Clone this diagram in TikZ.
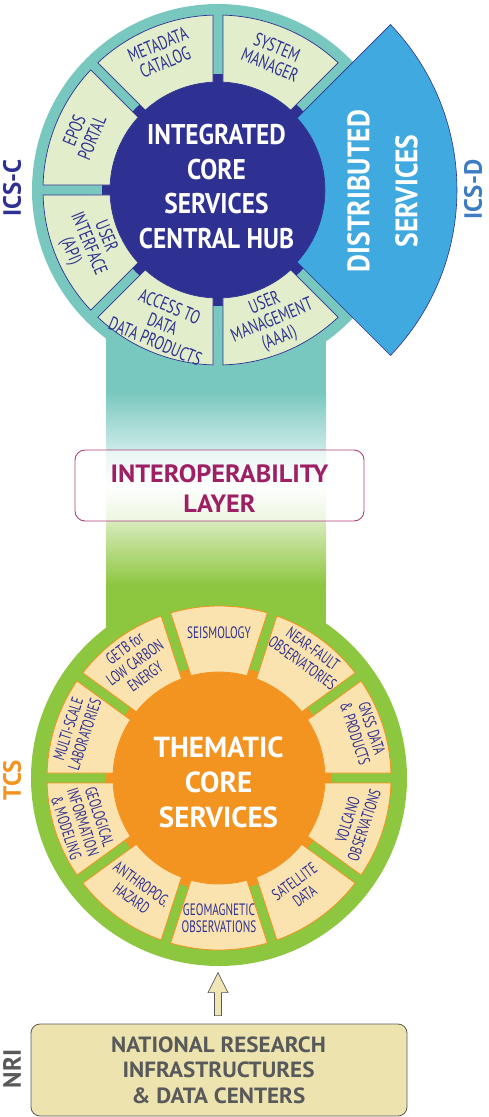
\documentclass[tikz,border=0pt]{standalone}
\usepackage{fontspec}
\setmainfont{PT Sans}
\newfontfamily\condf[FakeStretch=0.68]{PT Sans}
\newfontfamily\condi[FakeStretch=0.72]{PT Sans}
\newfontfamily\hubf[FakeStretch=0.89]{PT Sans}
\newfontfamily\widef[FakeStretch=1.05]{PT Sans}
\usetikzlibrary{calc}
\definecolor{navy}{HTML}{2E3192}
\definecolor{tealc}{HTML}{79C8BF}
\definecolor{segg}{HTML}{E1EDCB}
\definecolor{dblue}{HTML}{40A9E0}
\definecolor{icsd}{HTML}{3B7CC2}
\definecolor{grn}{HTML}{8DC63F}
\definecolor{org}{HTML}{F39320}
\definecolor{peach}{HTML}{FBE3B0}
\definecolor{mag}{HTML}{9E1F63}
\definecolor{nrif}{HTML}{ECE3AE}
\definecolor{nrit}{HTML}{58595B}
\definecolor{arrf}{HTML}{EEE6B4}
\tikzset{
  ics seg/.style={fill=segg, draw=navy, line width=0.7pt},
  tcs seg/.style={fill=peach, draw=org, line width=0.8pt},
  seglab/.style={font=\condf\fontsize{16.5}{17.5}\selectfont, text=navy, align=center, inner sep=0pt},
  icslab/.style={font=\condi\fontsize{19}{19}\selectfont, text=navy, align=center, inner sep=0pt},
  sidelab/.style={font=\bfseries\fontsize{25}{25}\selectfont, rotate=90, inner sep=0pt},
  hubtext/.style={font=\hubf\bfseries\fontsize{28.5}{34.5}\selectfont, text=white, align=center, inner sep=0pt},
}
\begin{document}
\begin{tikzpicture}[x=1pt,y=1pt]
\useasboundingbox (0,0) rectangle (488,-1117);
% column between the two circles
\fill[tealc] (106,-300) rectangle (326,-392);
\shade[top color=tealc, bottom color=white] (106,-392) rectangle (326,-486);
\shade[top color=white, bottom color=grn] (106,-486) rectangle (326,-586);
\fill[grn] (106,-585) rectangle (326,-700);

% ---------- ICS-C ----------
\begin{scope}[shift={(218,-190)}]
  \fill[tealc] (0,0) circle[radius=186];
  \fill[navy] (0,0) circle[radius=116];
  \foreach \a/\b in {45/90,90/135,135/180,180/225,225/270,270/315}{
    \draw[ics seg] ({\a+2.65}:108) -- ({\a+1.64}:175)
      arc[start angle={\a+1.64}, end angle={\b-1.64}, radius=175]
      -- ({\b-2.65}:108)
      arc[start angle={\b-2.65}, end angle={\a+2.65}, radius=108] -- cycle;
  }
  \draw[fill=dblue, draw=navy, line width=0.6pt] ({-45+1.2}:239)
      arc[start angle={-45+1.2}, end angle={45-1.2}, radius=239]
      -- ({45-2.68}:107)
      arc[start angle={45-2.68}, end angle={-45+2.68}, radius=107] -- cycle;
  \foreach \m/\r/\rot/\t/\n in {
     112.5/148/22.5/{METADATA\\CATALOG}/meta,
     67.5/145/-22.5/{SYSTEM\\MANAGER}/sysm,
     157.5/146/67.5/{EPOS\\PORTAL}/epos,
     202.5/141/-67.5/{USER\\INTERFACE\\(API)}/uapi,
     247.5/145/-22.5/{ACCESS TO\\DATA\\DATA PRODUCTS}/acc,
     292.5/142/22.5/{USER\\MANAGEMENT\\(AAAI)}/umgt}{
    \node[icslab, rotate=\rot] (\n) at (\m:\r) {\t};
  }
  \node[hubtext] (hubt) at (-1.5,3.5) {INTEGRATED\\CORE\\SERVICES\\CENTRAL HUB};
  \node[font=\hubf\bfseries\fontsize{31}{48}\selectfont, text=white, align=center,
        rotate=90, inner sep=0pt] (dist) at (164.5,-1) {DISTRIBUTED\\SERVICES};
\end{scope}
\node[sidelab, text=navy] (icsc) at (12,-188) {ICS-C};
\node[sidelab, text=icsd] (icsdl) at (473,-189.5) {ICS-D};

% ---------- Interoperability layer ----------
\node[draw=mag!85, line width=0.9pt, fill=white, fill opacity=0.55, text opacity=1,
      rounded corners=10pt, minimum width=289, minimum height=71, inner sep=0pt]
      (iobox) at (219.5,-485.5) {};
\node[font=\widef\bfseries\fontsize{25}{30}\selectfont, text=mag, align=center, inner sep=0pt]
      (iotext) at (219.5,-488.5) {INTEROPERABILITY\\LAYER};

% ---------- TCS ----------
\begin{scope}[shift={(219,-778)}]
  \fill[grn] (0,0) circle[radius=188];
  \fill[org] (0,0) circle[radius=113];
  \foreach \k in {0,...,9}{
    \pgfmathsetmacro{\a}{36*\k}
    \pgfmathsetmacro{\b}{36*\k+36}
    \draw[tcs seg] ({\a+2.7}:106) -- ({\a+1.67}:172)
      arc[start angle={\a+1.67}, end angle={\b-1.67}, radius=172]
      -- ({\b-2.7}:106)
      arc[start angle={\b-2.7}, end angle={\a+2.7}, radius=106] -- cycle;
  }
  \foreach \m/\r/\rot/\t/\n in {
     90/145/0/{SEISMOLOGY}/seis,
     54/151/-36/{NEAR-FAULT\\OBSERVATORIES}/nfo,
     18/152/-72/{GNSS DATA\\\& PRODUCTS}/gnss,
     -18/144/72/{VOLCANO\\OBSERVATIONS}/volc,
     -54/137/36/{SATELLITE\\DATA}/sat,
     -90/140/0/{GEOMAGNETIC\\OBSERVATIONS}/geom,
     -126/140/-36/{ANTHROPOG.\\HAZARD}/anth,
     -162/143/-72/{GEOLOGICAL\\INFORMATION\\\& MODELING}/geol,
     162/150/72/{MULTI-SCALE\\LABORATORIES}/msl,
     126/143/36/{GETB for\\LOW CARBON\\ENERGY}/getb}{
    \node[seglab, rotate=\rot] (\n) at (\m:\r) {\t};
  }
  \node[hubtext, font=\bfseries\fontsize{29}{35}\selectfont] (tcst) at (-0.5,-4.5) {THEMATIC\\CORE\\SERVICES};
\end{scope}
\node[sidelab, text=org] (tcsl) at (12,-780) {TCS};

% ---------- NRI ----------
\node[draw=nrit, line width=0.8pt, fill=nrif, rounded corners=9pt,
      minimum width=376, minimum height=92, inner sep=0pt] (nri) at (219,-1070) {};
\node[font=\widef\bfseries\fontsize{22}{25.5}\selectfont, text=nrit, align=center, inner sep=0pt]
      (nrit) at (218.5,-1070) {NATIONAL RESEARCH\\INFRASTRUCTURES\\\& DATA CENTERS};
\node[sidelab, text=nrit] (nril) at (12,-1069) {NRI};
\coordinate (ab) at ($(nri.north)+(-1,8)$);
\coordinate (at) at ($(ab)+(0,43)$);
\draw[fill=arrf, draw=nrit, line width=0.7pt]
  ($(ab)+(-3.5,0)$) -- ($(ab)+(-3.5,23)$) -- ($(ab)+(-10,23)$) -- (at)
  -- ($(ab)+(10,23)$) -- ($(ab)+(3.5,23)$) -- ($(ab)+(3.5,0)$) -- cycle;
\end{tikzpicture}
\end{document}
